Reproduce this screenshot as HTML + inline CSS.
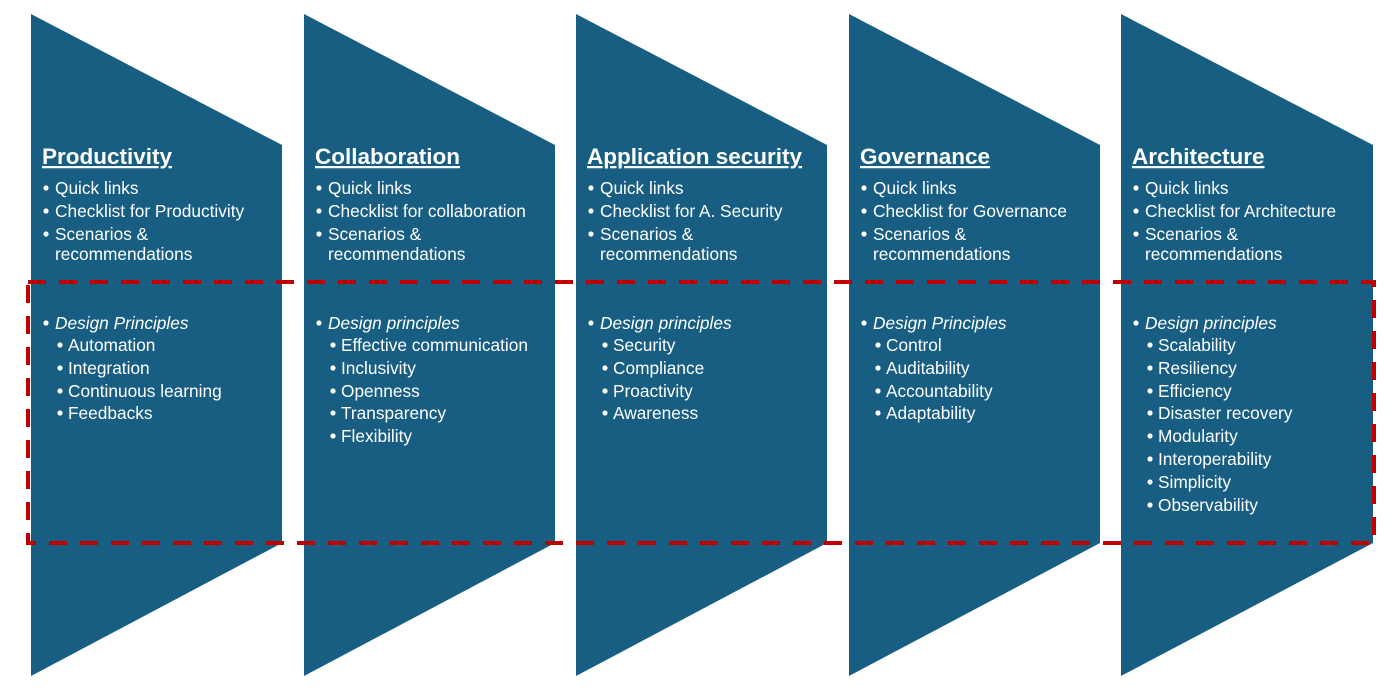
<!DOCTYPE html>
<html><head><meta charset="utf-8"><style>
html,body{margin:0;padding:0;background:#fff;width:1400px;height:691px;overflow:hidden}
svg text{font-family:"Liberation Sans",sans-serif;fill:#fff;font-size:17.3px}
.t{font-size:22.5px;font-weight:bold;text-decoration:underline}
.i{font-style:italic}
</style></head><body>
<svg width="1400" height="691" xmlns="http://www.w3.org/2000/svg">
<defs>
<g id="d"><circle r="2.6" fill="#fff"/></g>
</defs>
<g fill="#175e82">
<polygon points="31,14 282,145 282,543 31,676"/>
<polygon points="304,14 555,145 555,543 304,676"/>
<polygon points="576,14 827,145 827,543 576,676"/>
<polygon points="849,14 1100,145 1100,543 849,676"/>
<polygon points="1121,14 1373,145 1373,543 1121,676"/>
</g>
<rect x="28" y="282" width="1346" height="261" fill="none" stroke="#c00000" stroke-width="4" stroke-dasharray="18,13"/>

<g id="c1">
<text x="42" y="164" class="t">Productivity</text>
<circle cx="46" cy="188" r="2.6" fill="#fff"/><text x="55" y="194">Quick links</text>
<circle cx="46" cy="211" r="2.6" fill="#fff"/><text x="55" y="217">Checklist for Productivity</text>
<circle cx="46" cy="234" r="2.6" fill="#fff"/><text x="55" y="240">Scenarios &amp;</text>
<text x="55" y="260">recommendations</text>
<circle cx="46" cy="323" r="2.6" fill="#fff"/><text x="55" y="329" class="i">Design Principles</text>
<circle cx="60" cy="345" r="2.6" fill="#fff"/><text x="68" y="351">Automation</text>
<circle cx="60" cy="368" r="2.6" fill="#fff"/><text x="68" y="374">Integration</text>
<circle cx="60" cy="391" r="2.6" fill="#fff"/><text x="68" y="397">Continuous learning</text>
<circle cx="60" cy="413" r="2.6" fill="#fff"/><text x="68" y="419">Feedbacks</text>
</g>
<g transform="translate(273,0)">
<text x="42" y="164" class="t">Collaboration</text>
<circle cx="46" cy="188" r="2.6" fill="#fff"/><text x="55" y="194">Quick links</text>
<circle cx="46" cy="211" r="2.6" fill="#fff"/><text x="55" y="217">Checklist for collaboration</text>
<circle cx="46" cy="234" r="2.6" fill="#fff"/><text x="55" y="240">Scenarios &amp;</text>
<text x="55" y="260">recommendations</text>
<circle cx="46" cy="323" r="2.6" fill="#fff"/><text x="55" y="329" class="i">Design principles</text>
<circle cx="60" cy="345" r="2.6" fill="#fff"/><text x="68" y="351">Effective communication</text>
<circle cx="60" cy="368" r="2.6" fill="#fff"/><text x="68" y="374">Inclusivity</text>
<circle cx="60" cy="391" r="2.6" fill="#fff"/><text x="68" y="397">Openness</text>
<circle cx="60" cy="413" r="2.6" fill="#fff"/><text x="68" y="419">Transparency</text>
<circle cx="60" cy="436" r="2.6" fill="#fff"/><text x="68" y="442">Flexibility</text>
</g>
<g transform="translate(545,0)">
<text x="42" y="164" class="t">Application security</text>
<circle cx="46" cy="188" r="2.6" fill="#fff"/><text x="55" y="194">Quick links</text>
<circle cx="46" cy="211" r="2.6" fill="#fff"/><text x="55" y="217">Checklist for A. Security</text>
<circle cx="46" cy="234" r="2.6" fill="#fff"/><text x="55" y="240">Scenarios &amp;</text>
<text x="55" y="260">recommendations</text>
<circle cx="46" cy="323" r="2.6" fill="#fff"/><text x="55" y="329" class="i">Design principles</text>
<circle cx="60" cy="345" r="2.6" fill="#fff"/><text x="68" y="351">Security</text>
<circle cx="60" cy="368" r="2.6" fill="#fff"/><text x="68" y="374">Compliance</text>
<circle cx="60" cy="391" r="2.6" fill="#fff"/><text x="68" y="397">Proactivity</text>
<circle cx="60" cy="413" r="2.6" fill="#fff"/><text x="68" y="419">Awareness</text>
</g>
<g transform="translate(818,0)">
<text x="42" y="164" class="t">Governance</text>
<circle cx="46" cy="188" r="2.6" fill="#fff"/><text x="55" y="194">Quick links</text>
<circle cx="46" cy="211" r="2.6" fill="#fff"/><text x="55" y="217">Checklist for Governance</text>
<circle cx="46" cy="234" r="2.6" fill="#fff"/><text x="55" y="240">Scenarios &amp;</text>
<text x="55" y="260">recommendations</text>
<circle cx="46" cy="323" r="2.6" fill="#fff"/><text x="55" y="329" class="i">Design Principles</text>
<circle cx="60" cy="345" r="2.6" fill="#fff"/><text x="68" y="351">Control</text>
<circle cx="60" cy="368" r="2.6" fill="#fff"/><text x="68" y="374">Auditability</text>
<circle cx="60" cy="391" r="2.6" fill="#fff"/><text x="68" y="397">Accountability</text>
<circle cx="60" cy="413" r="2.6" fill="#fff"/><text x="68" y="419">Adaptability</text>
</g>
<g transform="translate(1090,0)">
<text x="42" y="164" class="t">Architecture</text>
<circle cx="46" cy="188" r="2.6" fill="#fff"/><text x="55" y="194">Quick links</text>
<circle cx="46" cy="211" r="2.6" fill="#fff"/><text x="55" y="217">Checklist for Architecture</text>
<circle cx="46" cy="234" r="2.6" fill="#fff"/><text x="55" y="240">Scenarios &amp;</text>
<text x="55" y="260">recommendations</text>
<circle cx="46" cy="323" r="2.6" fill="#fff"/><text x="55" y="329" class="i">Design principles</text>
<circle cx="60" cy="345" r="2.6" fill="#fff"/><text x="68" y="351">Scalability</text>
<circle cx="60" cy="368" r="2.6" fill="#fff"/><text x="68" y="374">Resiliency</text>
<circle cx="60" cy="391" r="2.6" fill="#fff"/><text x="68" y="397">Efficiency</text>
<circle cx="60" cy="413" r="2.6" fill="#fff"/><text x="68" y="419">Disaster recovery</text>
<circle cx="60" cy="436" r="2.6" fill="#fff"/><text x="68" y="442">Modularity</text>
<circle cx="60" cy="459" r="2.6" fill="#fff"/><text x="68" y="465">Interoperability</text>
<circle cx="60" cy="482" r="2.6" fill="#fff"/><text x="68" y="488">Simplicity</text>
<circle cx="60" cy="505" r="2.6" fill="#fff"/><text x="68" y="511">Observability</text>
</g>
</svg>
</body></html>
